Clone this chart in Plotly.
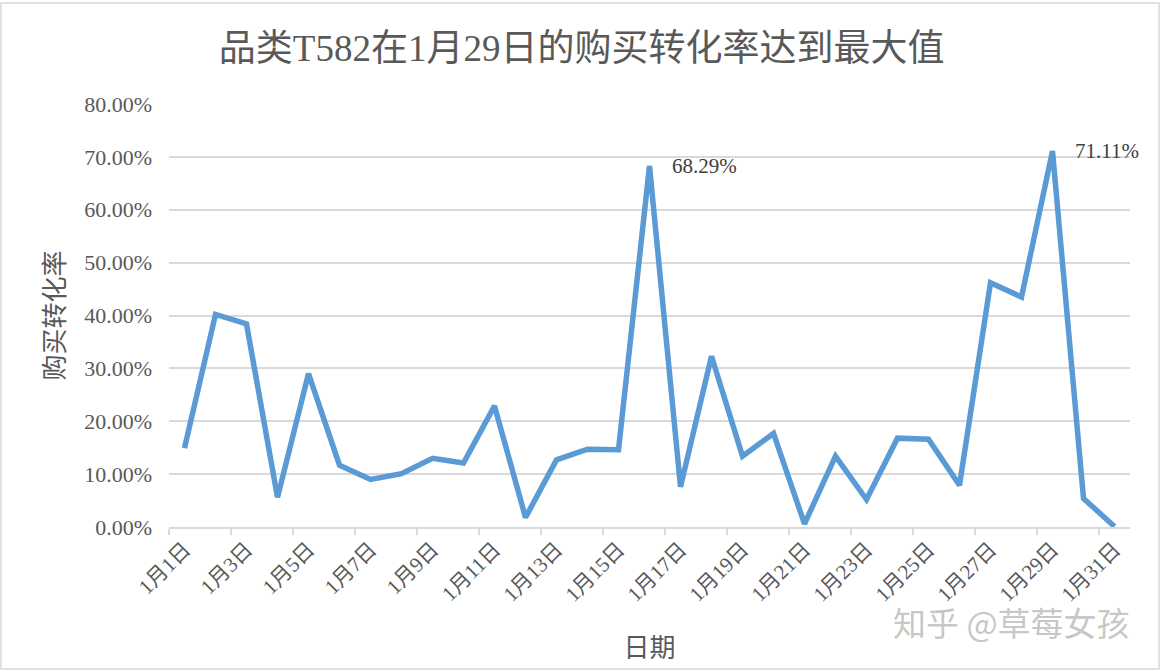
import plotly.graph_objects as go

dates = ["1月1日", "1月2日", "1月3日", "1月4日", "1月5日", "1月6日", "1月7日", "1月8日",
         "1月9日", "1月10日", "1月11日", "1月12日", "1月13日", "1月14日", "1月15日", "1月16日",
         "1月17日", "1月18日", "1月19日", "1月20日", "1月21日", "1月22日", "1月23日", "1月24日",
         "1月25日", "1月26日", "1月27日", "1月28日", "1月29日", "1月30日", "1月31日"]
rates = [0.149, 0.402, 0.384, 0.056, 0.290, 0.117, 0.090, 0.101, 0.130, 0.121,
         0.229, 0.018, 0.127, 0.147, 0.146, 0.6829, 0.076, 0.323, 0.134, 0.177,
         0.006, 0.134, 0.052, 0.168, 0.166, 0.079, 0.462, 0.435, 0.7111, 0.054, 0.001]
labeled_dates = ["1月16日", "1月29日"]
y_ticks = [0, 0.1, 0.2, 0.3, 0.4, 0.5, 0.6, 0.7, 0.8]

FONT = "Liberation Serif, Noto Sans CJK SC, serif"
GRAY = "#595959"

fig = go.Figure()
fig.add_trace(go.Scatter(
    x=dates, y=rates, mode="lines",
    line=dict(color="#5b9bd5", width=5.5, shape="linear"),
    hoverinfo="x+y", showlegend=False,
))

for d in labeled_dates:
    v = rates[dates.index(d)]
    fig.add_annotation(
        x=d, y=v, text=f"{v*100:.2f}%", showarrow=False,
        xanchor="left", yanchor="middle", xshift=20,
        font=dict(family=FONT, size=21, color="#404040"),
    )

pw, ph = 961, 423
fig.add_annotation(
    x=(1132 - 169) / pw, y=(527 - 622) / ph, xref="paper", yref="paper",
    text="知乎 @草莓女孩", showarrow=False, xanchor="right", yanchor="middle",
    font=dict(family="Noto Sans CJK SC", size=33, color="rgba(150,150,150,0.55)"),
)

# chart border
fig.add_shape(type="rect", xref="paper", yref="paper",
              x0=(1 - 169) / pw, x1=(1159 - 169) / pw,
              y0=(527 - 669) / ph, y1=(527 - 3) / ph,
              line=dict(color="#d9d9d9", width=1.5), layer="below")

fig.update_layout(
    width=1161, height=670,
    margin=dict(l=169, r=31, t=104, b=143),
    paper_bgcolor="white", plot_bgcolor="white",
    title=dict(text="品类T582在1月29日的购买转化率达到最大值",
               x=0.501, xanchor="center", y=1 - 48 / 670, yanchor="middle",
               font=dict(family=FONT, size=37, color=GRAY)),
    font=dict(family=FONT, color=GRAY),
)

fig.update_xaxes(
    type="category", range=[-0.5, len(dates) - 0.5],
    tickangle=-45, dtick=2, tickson="boundaries",
    ticks="outside", ticklen=6, tickcolor="#d9d9d9", tickwidth=1.5,
    showline=True, linecolor="#d9d9d9", linewidth=1.5,
    showgrid=False, tickfont=dict(family=FONT, size=21, color=GRAY),
    title=dict(text="日期", font=dict(family=FONT, size=26, color=GRAY), standoff=33),
)
fig.update_yaxes(
    range=[0, 0.8], tickvals=y_ticks, tickformat=".2%",
    showgrid=True, gridcolor="#d9d9d9", gridwidth=1.5,
    zeroline=False, showline=False, ticks="",
    ticklabelstandoff=16,
    tickfont=dict(family=FONT, size=22, color=GRAY),
    title=dict(text="购买转化率", font=dict(family=FONT, size=26, color=GRAY), standoff=12),
)

fig.write_html("out.html")
